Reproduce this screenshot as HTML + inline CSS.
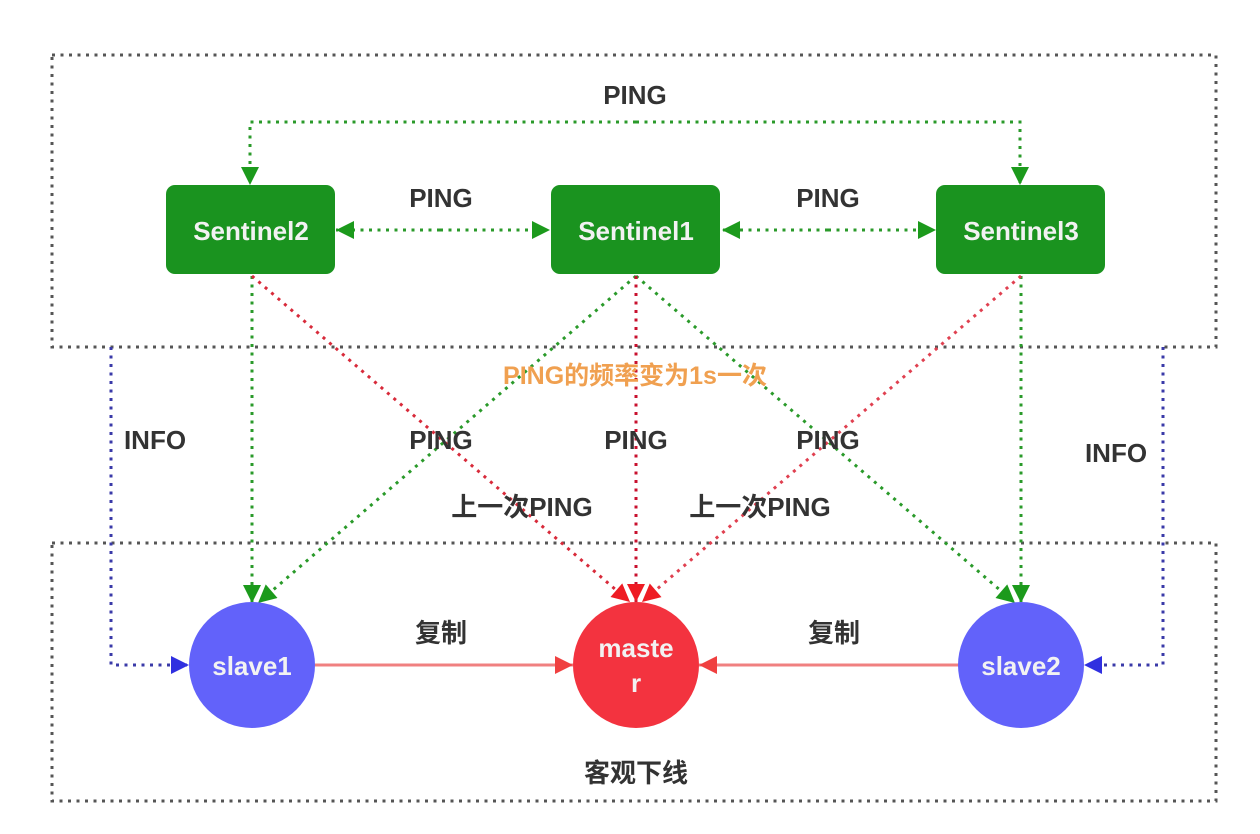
<!DOCTYPE html>
<html><head><meta charset="utf-8">
<style>
html,body{margin:0;padding:0;background:#fff;}
svg{display:block;}
text{font-family:"Liberation Sans","Noto Sans CJK SC",sans-serif;font-weight:bold;}
</style></head>
<body>
<svg width="1260" height="834" viewBox="0 0 1260 834" xmlns="http://www.w3.org/2000/svg">
<defs>
<marker id="ag" viewBox="0 0 10 10" refX="10" refY="5" markerWidth="20" markerHeight="18" markerUnits="userSpaceOnUse" orient="auto"><path d="M0,0 L10,5 L0,10 z" fill="#1c9a1c"/></marker>
<marker id="ar" viewBox="0 0 10 10" refX="10" refY="5" markerWidth="20" markerHeight="18" markerUnits="userSpaceOnUse" orient="auto"><path d="M0,0 L10,5 L0,10 z" fill="#ee1c24"/></marker>
<marker id="ab" viewBox="0 0 10 10" refX="10" refY="5" markerWidth="20" markerHeight="18" markerUnits="userSpaceOnUse" orient="auto"><path d="M0,0 L10,5 L0,10 z" fill="#3030e0"/></marker>
<marker id="ap" viewBox="0 0 10 10" refX="10" refY="5" markerWidth="20" markerHeight="18" markerUnits="userSpaceOnUse" orient="auto"><path d="M0,0 L10,5 L0,10 z" fill="#f04040"/></marker>
</defs>
<g fill="none" stroke="#555" stroke-width="3" stroke-dasharray="3 5.5">
<rect x="52" y="55" width="1164" height="292"/>
<rect x="52" y="543" width="1164" height="258"/>
</g>
<g fill="none" stroke-width="3" stroke-dasharray="3 5.5">
<path d="M636,122 L250,122 L250,185" stroke="#2a9a2a" marker-end="url(#ag)"/>
<path d="M636,122 L1020,122 L1020,185" stroke="#2a9a2a" marker-end="url(#ag)"/>
<line x1="440" y1="230" x2="336" y2="230" stroke="#2a9a2a" marker-end="url(#ag)"/>
<line x1="440" y1="230" x2="550" y2="230" stroke="#2a9a2a" marker-end="url(#ag)"/>
<line x1="828" y1="230" x2="722" y2="230" stroke="#2a9a2a" marker-end="url(#ag)"/>
<line x1="828" y1="230" x2="936" y2="230" stroke="#2a9a2a" marker-end="url(#ag)"/>
<line x1="252" y1="276" x2="252" y2="603" stroke="#2a9a2a" marker-end="url(#ag)"/>
<line x1="636" y1="276" x2="258" y2="603" stroke="#2a9a2a" marker-end="url(#ag)"/>
<line x1="636" y1="276" x2="1015" y2="603" stroke="#2a9a2a" marker-end="url(#ag)"/>
<line x1="1021" y1="276" x2="1021" y2="603" stroke="#2a9a2a" marker-end="url(#ag)"/>
<line x1="252" y1="276" x2="630" y2="602" stroke="#d82a3a" marker-end="url(#ar)"/>
<line x1="636" y1="276" x2="636" y2="602" stroke="#c8102e" marker-end="url(#ar)"/>
<line x1="1021" y1="276" x2="642" y2="602" stroke="#e04050" marker-end="url(#ar)"/>
<path d="M111,347 L111,665 L189,665" stroke="#3a3aa8" marker-end="url(#ab)"/>
<path d="M1163,347 L1163,665 L1084,665" stroke="#3a3aa8" marker-end="url(#ab)"/>
</g>
<line x1="315" y1="665" x2="573" y2="665" stroke="#f08080" stroke-width="3" marker-end="url(#ap)"/>
<line x1="959" y1="665" x2="699" y2="665" stroke="#f08080" stroke-width="3" marker-end="url(#ap)"/>
<g fill="#1a931f">
<rect x="166" y="185" width="169" height="89" rx="9"/>
<rect x="551" y="185" width="169" height="89" rx="9"/>
<rect x="936" y="185" width="169" height="89" rx="9"/>
</g>
<circle cx="252" cy="665" r="63" fill="#6262fa"/>
<circle cx="636" cy="665" r="63" fill="#f3333f"/>
<circle cx="1021" cy="665" r="63" fill="#6262fa"/>
<g fill="#f2f2f2" font-size="26" text-anchor="middle">
<text x="251" y="240">Sentinel2</text>
<text x="636" y="240">Sentinel1</text>
<text x="1021" y="240">Sentinel3</text>
<text x="252" y="675">slave1</text>
<text x="636" y="657">maste</text>
<text x="636" y="692">r</text>
<text x="1021" y="675">slave2</text>
</g>
<g fill="#333" font-size="26" text-anchor="middle">
<text x="635" y="104">PING</text>
<text x="441" y="207">PING</text>
<text x="828" y="207">PING</text>
<text x="441" y="449">PING</text>
<text x="636" y="449">PING</text>
<text x="828" y="449">PING</text>
<text x="522" y="516">上一次PING</text>
<text x="760" y="516">上一次PING</text>
<text x="155" y="449">INFO</text>
<text x="1116" y="462">INFO</text>
<text x="441" y="642">复制</text>
<text x="834" y="642">复制</text>
<text x="636" y="782">客观下线</text>
</g>
<text x="635" y="384" fill="#f0a050" font-size="25" text-anchor="middle">PING的频率变为1s一次</text>
</svg>
</body></html>
